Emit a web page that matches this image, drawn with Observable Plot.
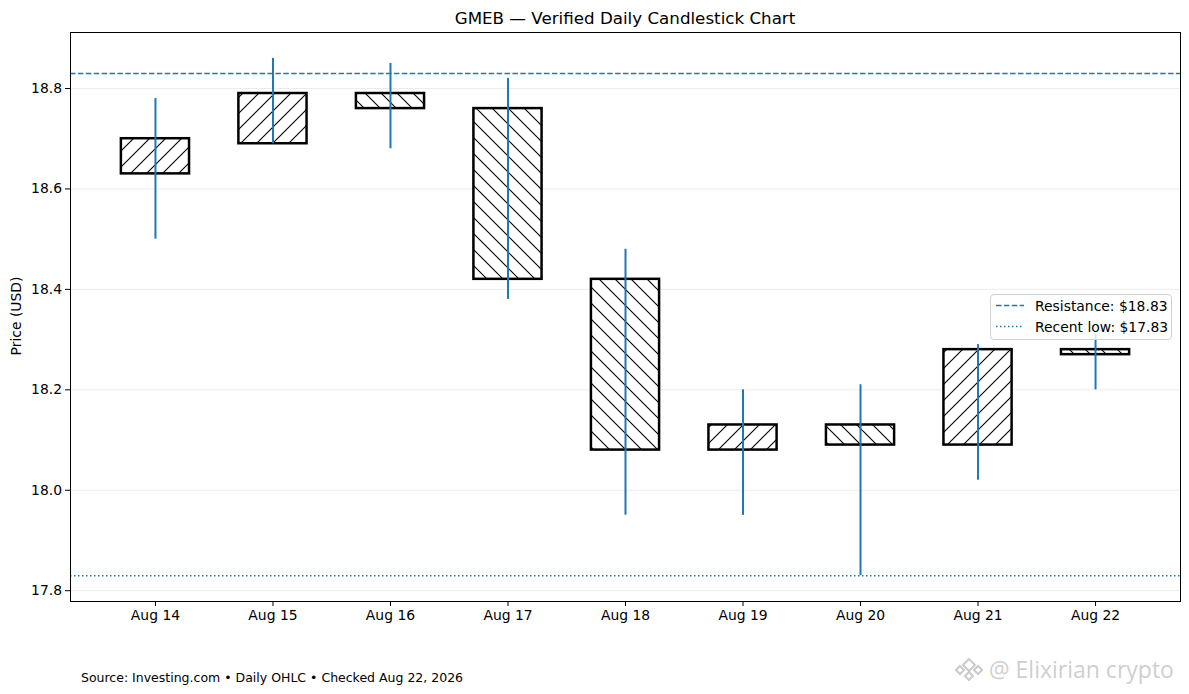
<!DOCTYPE html>
<html>
<head>
<meta charset="utf-8">
<script src="https://cdn.jsdelivr.net/npm/d3@7"></script>
<script src="https://cdn.jsdelivr.net/npm/@observablehq/plot@0.6"></script>
<style>
  html, body { margin: 0; padding: 0; background: #fff; }
  body { font-family: "DejaVu Sans", sans-serif; }
  #wrap { position: relative; width: 1189px; height: 694px; overflow: hidden; }
  .abs { position: absolute; white-space: nowrap; }
</style>
</head>
<body>
<div id="wrap"></div>
<script>
const dates = ["Aug 14", "Aug 15", "Aug 16", "Aug 17", "Aug 18", "Aug 19", "Aug 20", "Aug 21", "Aug 22"];
const open  = [18.63, 18.69, 18.79, 18.76, 18.42, 18.08, 18.13, 18.09, 18.28];
const close = [18.70, 18.79, 18.76, 18.42, 18.08, 18.13, 18.09, 18.28, 18.27];
const high  = [18.78, 18.86, 18.85, 18.82, 18.48, 18.20, 18.21, 18.29, 18.31];
const low   = [18.50, 18.69, 18.68, 18.38, 17.95, 17.95, 17.83, 18.02, 18.20];
const resistance = 18.83;
const recentLow = 17.83;
const yTicks = [17.8, 18.0, 18.2, 18.4, 18.6, 18.8];
const title = "GMEB — Verified Daily Candlestick Chart";
const yLabel = "Price (USD)";
const caption = "Source: Investing.com • Daily OHLC • Checked Aug 22, 2026";
const legendLabels = ["Resistance: $18.83", "Recent low: $17.83"];

const rows = dates.map((d, i) => ({date: d, open: open[i], close: close[i], high: high[i], low: low[i]}));
const up = rows.filter(r => r.close >= r.open);
const down = rows.filter(r => r.close < r.open);

const lo = d3.min(low), hi = d3.max(high);
const m = (hi - lo) * 0.05;

const blue = "#1f77b4";
const FS = 13.9;

const chart = Plot.plot({
  width: 1189,
  height: 694,
  marginLeft: 70,
  marginRight: 9,
  marginTop: 32,
  marginBottom: 93,
  style: {fontFamily: "DejaVu Sans, sans-serif", fontSize: FS + "px", background: "white", overflow: "visible"},
  x: {type: "band", domain: dates, paddingInner: 0.42, paddingOuter: 0.433, round: false},
  y: {domain: [lo - m, hi + m]},
  marks: [
    Plot.gridY(yTicks, {stroke: "#b0b0b0", strokeOpacity: 0.3, strokeWidth: 0.8}),
    Plot.ruleY([resistance], {stroke: blue, strokeWidth: 1.5, strokeDasharray: "5.5,2.4"}),
    Plot.ruleY([recentLow], {stroke: blue, strokeWidth: 1.5, strokeDasharray: "1.5,2.5"}),
    Plot.barY(up, {x: "date", y1: "open", y2: "close", fill: "url(#hatchUp)", stroke: "black", strokeWidth: 2.5}),
    Plot.barY(down, {x: "date", y1: "open", y2: "close", fill: "url(#hatchDown)", stroke: "black", strokeWidth: 2.5}),
    Plot.ruleX(rows, {x: "date", y1: "low", y2: "high", stroke: blue, strokeWidth: 2}),
    Plot.frame({stroke: "black", strokeWidth: 1}),
    Plot.axisY({ticks: yTicks, tickFormat: d3.format(".1f"), tickSize: 5, tickPadding: 3.5, fontSize: FS, label: null}),
    Plot.axisX({tickSize: 5, tickPadding: 3.5, fontSize: FS, label: null})
  ]
});

// hatch patterns
const ns = "http://www.w3.org/2000/svg";
const defs = document.createElementNS(ns, "defs");
defs.innerHTML = `
  <pattern id="hatchUp" patternUnits="userSpaceOnUse" width="16" height="16">
    <rect width="16" height="16" fill="white"/>
    <path d="M-4,4 L4,-4 M0,16 L16,0 M12,20 L20,12" stroke="black" stroke-width="1.1"/>
  </pattern>
  <pattern id="hatchDown" patternUnits="userSpaceOnUse" width="16" height="16">
    <rect width="16" height="16" fill="white"/>
    <path d="M-4,12 L4,20 M0,0 L16,16 M12,-4 L20,4" stroke="black" stroke-width="1.1"/>
  </pattern>`;
chart.insertBefore(defs, chart.firstChild);

const wrap = document.getElementById("wrap");
wrap.appendChild(chart);

// y label
const yl = document.createElement("div");
yl.className = "abs";
yl.textContent = yLabel;
yl.style.cssText += `left:16px; top:316px; font-size:${FS}px; transform: translate(-50%,-50%) rotate(-90deg); color:#000;`;
wrap.appendChild(yl);

// title
const t = document.createElement("div");
t.className = "abs";
t.textContent = title;
t.style.cssText += `left:625px; top:18px; font-size:16.7px; transform: translate(-50%,-50%); color:#000;`;
wrap.appendChild(t);

// caption
const c = document.createElement("div");
c.className = "abs";
c.textContent = caption;
c.style.cssText += `left:81px; top:677px; font-size:12.5px; transform: translate(0,-50%); color:#000;`;
wrap.appendChild(c);

// legend
const lg = document.createElement("div");
lg.className = "abs";
lg.style.cssText += `left:990px; top:294px; width:182px; height:46px; box-sizing:border-box; border:1px solid #d0d0d0; border-radius:4px; background:rgba(255,255,255,0.8);`;
lg.innerHTML = `
  <svg width="40" height="45" style="position:absolute;left:0;top:0">
    <line x1="5" x2="33" y1="10.5" y2="10.5" stroke="${blue}" stroke-width="1.5" stroke-dasharray="5.5,2.4"/>
    <line x1="5" x2="33" y1="31.5" y2="31.5" stroke="${blue}" stroke-width="1.5" stroke-dasharray="1.5,2.5"/>
  </svg>
  <div class="abs" style="left:44px; top:10.5px; transform:translate(0,-50%); font-size:${FS}px; color:#000">${legendLabels[0]}</div>
  <div class="abs" style="left:44px; top:31.5px; transform:translate(0,-50%); font-size:${FS}px; color:#000">${legendLabels[1]}</div>`;
wrap.appendChild(lg);

// watermark
const wm = document.createElement("div");
wm.className = "abs";
wm.style.cssText += `left:955px; top:669px; transform: translate(0,-50%); font-size:23px; color:rgba(190,190,190,0.75); font-family:'Open Sans', 'DejaVu Sans', sans-serif;`;
wm.innerHTML = `<svg width="28" height="26" viewBox="0 0 28 26" style="vertical-align:-4px">
  <g fill="none" stroke="rgba(190,190,190,0.8)" stroke-width="2">
    <path d="M14 3 L20 9 L14 15 L8 9 Z"/>
    <path d="M5 10 L9 14 L5 18 L1 14 Z"/>
    <path d="M23 10 L27 14 L23 18 L19 14 Z"/>
    <path d="M14 16 L18 20 L14 24 L10 20 Z"/>
  </g></svg> @ Elixirian crypto`;
wrap.appendChild(wm);
</script>
</body>
</html>
